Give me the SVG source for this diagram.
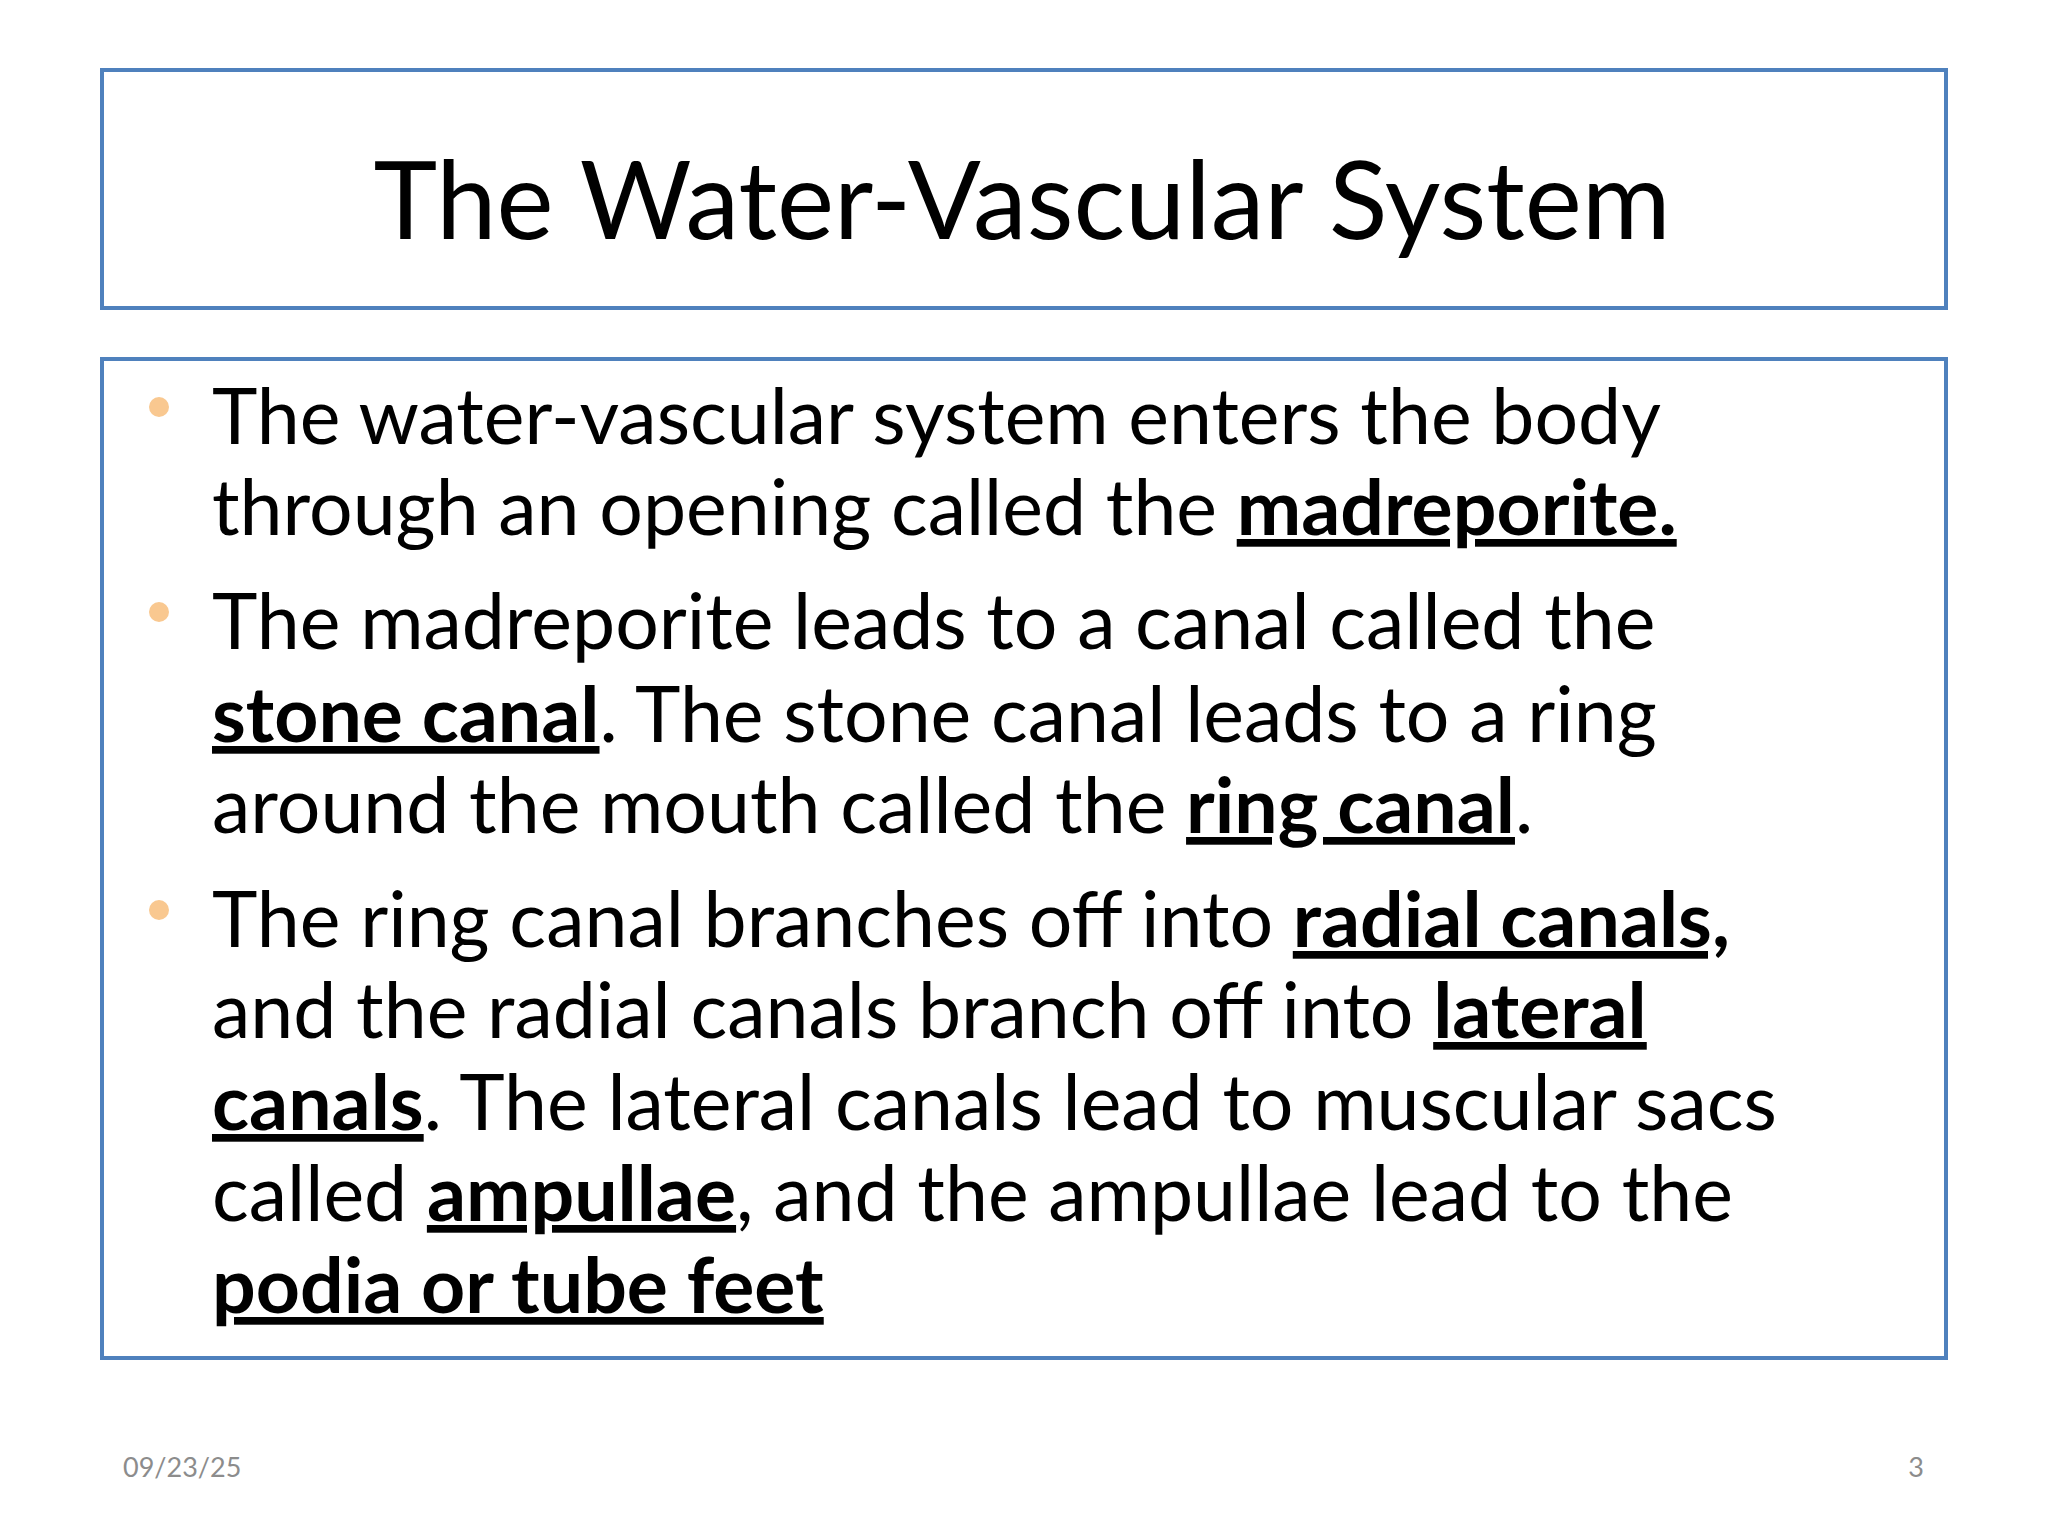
<svg xmlns="http://www.w3.org/2000/svg" width="2048" height="1536" viewBox="0 0 2048 1536">
<style>
.box{fill:#fff;stroke:#4F81BD;stroke-width:4}
.t{font-family:Lato,"Open Sans",sans-serif;fill:#000}
.b{font-size:77px}
.u{font-weight:bold;text-decoration:underline}
.f{font-family:Lato,sans-serif;font-size:27px;fill:#8C8C8C}
.bul{fill:#F9C890}
</style>
<rect width="2048" height="1536" fill="#fff"/>
<g id="title"><rect class="box" x="102" y="70" width="1844" height="238"/>
<text class="t" x="1022" y="239" font-size="108" text-anchor="middle">The Water-Vascular System</text></g>
<g id="body"><rect class="box" x="102" y="359" width="1844" height="999"/>
<circle class="bul" cx="159" cy="407" r="10"/><circle class="bul" cx="159" cy="612" r="10"/><circle class="bul" cx="159" cy="910" r="10"/>
<text class="t b" x="212" y="444">The water-vascular system enters the body</text>
<text class="t b" x="212" y="535">through an opening called the <tspan class="u">madreporite.</tspan></text>
<text class="t b" x="212" y="649">The madreporite leads to a canal called the</text>
<text class="t b" x="212" y="742"><tspan class="u">stone canal</tspan>.  The stone canal leads to a ring</text>
<text class="t b" x="212" y="833">around the mouth called the <tspan class="u">ring canal</tspan>.</text>
<text class="t b" x="212" y="947">The ring canal branches off into <tspan class="u">radial canals,</tspan></text>
<text class="t b" x="212" y="1038">and the radial canals branch off into <tspan class="u">lateral</tspan></text>
<text class="t b" x="212" y="1130"><tspan class="u">canals</tspan>.  The lateral canals lead to muscular sacs</text>
<text class="t b" x="212" y="1221">called <tspan class="u">ampullae</tspan>, and the ampullae lead to the</text>
<text class="t b" x="212" y="1313"><tspan class="u">podia or tube feet</tspan></text></g>
<g id="footer"><text class="f" x="123" y="1477">09/23/25</text><text class="f" x="1924" y="1477" text-anchor="end">3</text></g>
</svg>
